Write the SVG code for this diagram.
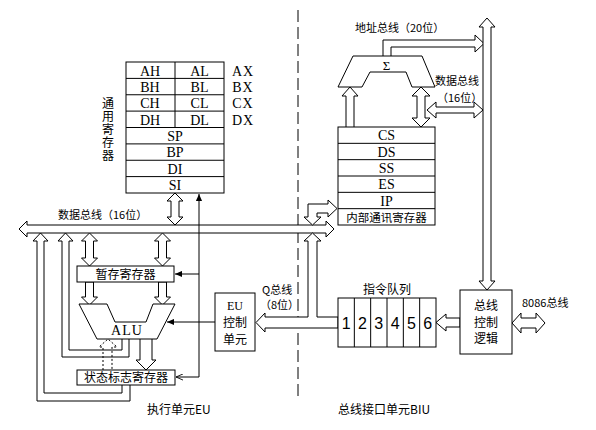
<svg xmlns="http://www.w3.org/2000/svg" width="596" height="430" viewBox="0 0 596 430">
<defs>
<marker id="fa" viewBox="0 0 8 8" refX="8" refY="4" markerWidth="7" markerHeight="7" orient="auto" markerUnits="userSpaceOnUse"><path d="M0,0.5 L8,4 L0,7.5 Z" fill="#000"/></marker>
<marker id="oa" viewBox="0 0 8 8" refX="8" refY="4" markerWidth="7" markerHeight="7" orient="auto" markerUnits="userSpaceOnUse"><path d="M0,0.5 L8,4 L0,7.5" fill="none" stroke="#000" stroke-width="1"/></marker>
<style>
.ln{stroke:#000;stroke-width:1;fill:none}
.ho{stroke:#000;stroke-width:1;fill:#fff}
.bx{stroke:#000;stroke-width:1;fill:#fff}
.t{font-family:"Noto Sans CJK SC","Noto Sans",sans-serif;font-size:12px;fill:#000}
.s{font-size:11px}
.c{text-anchor:middle}
.r{font-family:"Liberation Serif",serif;font-size:14px;fill:#000;text-anchor:middle}
.n{font-family:"Liberation Sans",sans-serif;font-size:16px;fill:#000;text-anchor:middle}
</style>
</defs>
<rect width="596" height="430" fill="#fff"/>

<!-- divider -->
<line x1="298" y1="10" x2="298" y2="398" stroke="#000" stroke-width="1" stroke-dasharray="12 5"/>

<g id="connectors">
  <!-- main data bus -->
  <path class="ho" d="M19,229 L27,221 L27,225 L326,225 L326,221 L334,229 L326,237 L326,233 L27,233 L27,237 Z"/>
  <!-- SI <-> bus -->
  <path class="ho" d="M175,193 L183,201 L179,201 L179,217 L183,217 L175,225 L167,217 L171,217 L171,201 L167,201 Z"/>
  <!-- bus <-> temp regs -->
  <path class="ho" d="M89.5,233 L97.5,241 L93.5,241 L93.5,258 L97.5,258 L89.5,266 L81.5,258 L85.5,258 L85.5,241 L81.5,241 Z"/>
  <path class="ho" d="M162.5,233 L170.5,241 L166.5,241 L166.5,258 L170.5,258 L162.5,266 L154.5,258 L158.5,258 L158.5,241 L154.5,241 Z"/>
  <!-- temp regs -> ALU -->
  <path class="ho" d="M85.5,282 L93.5,282 L93.5,297 L97.5,297 L89.5,305 L81.5,297 L85.5,297 Z"/>
  <path class="ho" d="M158.5,282 L166.5,282 L166.5,297 L170.5,297 L162.5,305 L154.5,297 L158.5,297 Z"/>
  <!-- ALU -> bus loop -->
  <path class="ln" d="M129,339 L129,357 L62,357 L62,241 L58,241 L65.5,233 L73,241 L69,241 L69,350 L122,350 L122,339"/>
  <!-- flags -> bus loop -->
  <path class="ln" d="M130,385 L130,401 L37,401 L37,241 L33,241 L40.5,233 L48,241 L44,241 L44,393 L122,393 L122,385"/>
  <!-- flags -> ALU dotted -->
  <path class="ln" stroke-dasharray="2 2" d="M103,370 L103,347 L99,347 L108,339 L117,347 L112,347 L112,370"/>
  <!-- ALU -> flags -->
  <path class="ho" d="M140,339 L140,360 L136,360 L146,370 L156,360 L152,360 L152,339"/>
  <!-- control lines -->
  <line class="ln" x1="199" y1="377" x2="199" y2="194" marker-end="url(#fa)"/>
  <line class="ln" x1="199" y1="274" x2="175" y2="274" marker-end="url(#fa)"/>
  <line class="ln" x1="199" y1="377" x2="176" y2="377" marker-end="url(#oa)"/>
  <line class="ln" x1="215" y1="322" x2="167" y2="322" marker-end="url(#fa)"/>

  <!-- BIU: internal reg <-> bus -->
  <path class="ho" d="M337,208.5 L328,217 L328,213 L317,213 L317,217 L321,217 L312.5,225 L304,217 L308,217 L308,204 L328,204 L328,200 Z"/>
  <!-- bus -> queue / Q bus -> EU -->
  <path class="ho" d="M312.5,233 L321,241 L317,241 L317,317 L338,317 L338,328 L265,328 L265,332 L256,322.5 L265,313 L265,317 L308,317 L308,241 L304,241 Z"/>
  <!-- segment regs -> sigma -->
  <path class="ho" d="M346,127 L346,96 L342,96 L350,87 L358,96 L354,96 L354,127"/>
  <path class="ho" d="M421,87 L430,96 L425,96 L425,118 L430,118 L421,127 L412,118 L417,118 L417,96 L412,96 Z"/>
  <!-- data bus 16 -->
  <path class="ho" d="M427,110 L436,102 L436,107 L474,107 L474,102 L483,110 L474,118 L474,113 L436,113 L436,118 Z"/>
  <!-- address bus -->
  <path class="ln" d="M383,56 L383,40 L475,40 L475,35 L484,43.5 L475,52 L475,47 L391,47 L391,56"/>
  <!-- vertical external bus -->
  <path class="ho" d="M487,18 L495,27 L491,27 L491,281 L495,281 L487,290 L479,281 L483,281 L483,27 L479,27 Z"/>
  <!-- bus control -> queue -->
  <path class="ho" d="M436,322.5 L446,314 L446,318 L460,318 L460,327 L446,327 L446,331 Z"/>
  <!-- 8086 bus -->
  <path class="ho" d="M512,323 L521,313 L521,318 L536,318 L536,313 L545,323 L536,333 L536,328 L521,328 L521,333 Z"/>
</g>

<g id="gpr">
  <rect class="bx" x="126" y="62" width="98" height="131"/>
  <path class="ln" d="M126,78.4H224 M126,94.75H224 M126,111.1H224 M126,127.5H224 M126,143.9H224 M126,160.25H224 M126,176.6H224 M175,62V127.5"/>
  <text class="r" x="150" y="75.5">AH</text><text class="r" x="199.5" y="75.5">AL</text>
  <text class="r" x="150" y="91.8">BH</text><text class="r" x="199.5" y="91.8">BL</text>
  <text class="r" x="150" y="108.2">CH</text><text class="r" x="199.5" y="108.2">CL</text>
  <text class="r" x="150" y="124.5">DH</text><text class="r" x="199.5" y="124.5">DL</text>
  <text class="r" x="175" y="140.9">SP</text>
  <text class="r" x="175" y="157.3">BP</text>
  <text class="r" x="175" y="173.6">DI</text>
  <text class="r" x="175" y="190">SI</text>
  <text class="r" x="243" y="75.5" letter-spacing="1">AX</text>
  <text class="r" x="243" y="91.8" letter-spacing="1">BX</text>
  <text class="r" x="243" y="108.2" letter-spacing="1">CX</text>
  <text class="r" x="243" y="124.5" letter-spacing="1">DX</text>
  <text class="t" x="108" y="97" style="writing-mode:vertical-rl;letter-spacing:1px">通用寄存器</text>
</g>

<g id="temp">
  <rect class="bx" x="77" y="266" width="97" height="16"/>
  <text class="t c" x="125.5" y="278.5">暂存寄存器</text>
</g>

<g id="alu">
  <polygon class="bx" points="79,304 107,304 115,322 146,322 153,304 175,304 157,339 97,339"/>
  <text class="r" x="127" y="335" letter-spacing="1">ALU</text>
</g>

<g id="flags">
  <rect class="bx" x="77" y="370" width="98" height="15"/>
  <text class="t c" x="126" y="382">状态标志寄存器</text>
</g>

<g id="euctl">
  <rect class="bx" x="215" y="293" width="40" height="58"/>
  <text class="r" x="235" y="310" style="font-size:12px">EU</text>
  <text class="t c" x="235" y="327">控制</text>
  <text class="t c" x="235" y="344">单元</text>
</g>

<g id="seg">
  <rect class="bx" x="338" y="127" width="97" height="98"/>
  <path class="ln" d="M338,143.33H435 M338,159.67H435 M338,176H435 M338,192.33H435 M338,208.67H435"/>
  <text class="r" x="386.5" y="140.3">CS</text>
  <text class="r" x="386.5" y="156.6">DS</text>
  <text class="r" x="386.5" y="173">SS</text>
  <text class="r" x="386.5" y="189.3">ES</text>
  <text class="r" x="386.5" y="205.6">IP</text>
  <text class="t c" x="386.5" y="221.5" style="font-size:11.5px">内部通讯寄存器</text>
</g>

<g id="sigma">
  <polygon class="bx" points="353,56 422,56 435,87 412,87 406,72 370,72 362,87 338,87"/>
  <text class="r" x="386.5" y="70" style="font-size:13px">Σ</text>
</g>

<g id="queue">
  <rect class="bx" x="338" y="298" width="98" height="49"/>
  <path class="ln" d="M354.33,298V347 M370.67,298V347 M387,298V347 M403.33,298V347 M419.67,298V347"/>
  <text class="n" x="346.2" y="328.5">1</text>
  <text class="n" x="362.5" y="328.5">2</text>
  <text class="n" x="378.8" y="328.5">3</text>
  <text class="n" x="395.2" y="328.5">4</text>
  <text class="n" x="411.5" y="328.5">5</text>
  <text class="n" x="427.8" y="328.5">6</text>
</g>

<g id="busctl">
  <rect class="bx" x="460" y="290" width="52" height="64"/>
  <text class="t c" x="486" y="310">总线</text>
  <text class="t c" x="486" y="327">控制</text>
  <text class="t c" x="486" y="343">逻辑</text>
</g>

<g id="labels">
  <text class="t s" x="355" y="32">地址总线（20位）</text>
  <text class="t s" x="435" y="85">数据总线</text>
  <text class="t s" x="437" y="102">（16位）</text>
  <text class="t s" x="58" y="219">数据总线（16位）</text>
  <text class="t s" x="262" y="294">Q总线</text>
  <text class="t s" x="260" y="309">（8位）</text>
  <text class="t" x="363" y="294">指令队列</text>
  <text class="t s" x="522" y="307">8086总线</text>
  <text class="t" x="147" y="414">执行单元EU</text>
  <text class="t" x="338" y="414">总线接口单元BIU</text>
</g>
</svg>
